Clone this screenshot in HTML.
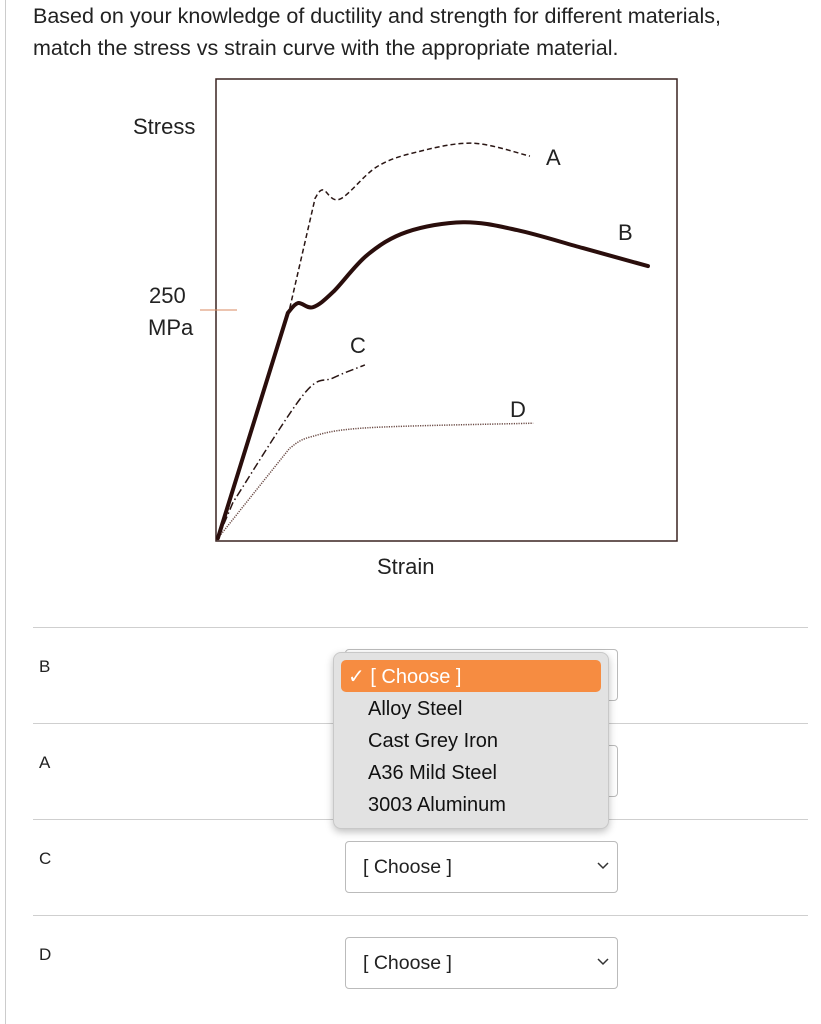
<!DOCTYPE html>
<html><head><meta charset="utf-8"><style>
body{margin:0;width:821px;height:1024px;background:#fff;font-family:"Liberation Sans",sans-serif;position:relative;overflow:hidden;color:#222}
.abs{position:absolute;white-space:nowrap}
.sep{position:absolute;left:33px;width:775px;height:1px;background:#cfcfcf}
.sel{position:absolute;left:345px;width:271px;height:50px;border:1px solid #bbb;border-radius:4px;background:#fff}
.sel span{position:absolute;left:17px;top:14px;font-size:19.5px;color:#222}
.sel svg{position:absolute;right:8px;top:20px}
.item{position:absolute;left:34px;font-size:20px;color:#111}
</style></head><body>
<div class="abs" style="left:5px;top:0;width:1px;height:1024px;background:#ccc"></div>
<div class="abs" style="left:33px;top:0px;font-size:21.5px;line-height:32px;color:#222">Based on your knowledge of ductility and strength for different materials,<br>match the stress vs strain curve with the appropriate material.</div>
<svg class="abs" style="left:0;top:0" width="821" height="600" id="chart"></svg>
<div class="sep" style="top:627px"></div>
<div class="sep" style="top:723px"></div>
<div class="sep" style="top:819px"></div>
<div class="sep" style="top:915px"></div>
<div class="abs" style="left:39px;top:657px;font-size:17px">B</div>
<div class="abs" style="left:39px;top:753px;font-size:17px">A</div>
<div class="abs" style="left:39px;top:849px;font-size:17px">C</div>
<div class="abs" style="left:39px;top:945px;font-size:17px">D</div>
<div class="sel" style="top:649px"></div>
<div class="sel" style="top:745px"></div>
<div class="sel" style="top:841px"><span>[ Choose ]</span><svg width="12" height="8"><path d="M1 1L6 6L11 1" stroke="#333" stroke-width="1.5" fill="none"/></svg></div>
<div class="sel" style="top:937px"><span>[ Choose ]</span><svg width="12" height="8"><path d="M1 1L6 6L11 1" stroke="#333" stroke-width="1.5" fill="none"/></svg></div>
<div class="abs" style="left:333px;top:652px;width:274px;height:175px;background:#e2e2e2;border:1px solid #c8c8c8;border-radius:8px;box-shadow:0 3px 8px rgba(0,0,0,.25)">
<div class="abs" style="left:7px;top:7px;width:260px;height:32px;background:#f68c41;border-radius:5px"><span style="position:absolute;left:7px;top:4px;font-size:20px;color:#fff">✓ [ Choose ]</span></div>
<div class="item" style="top:45px">Alloy Steel</div>
<div class="item" style="top:77px">Cast Grey Iron</div>
<div class="item" style="top:109px">A36 Mild Steel</div>
<div class="item" style="top:141px">3003 Aluminum</div>
</div>
<script>
const strainB=[0.4,15.6,17.8,21,25.4,32.8,41.4,53.6,65.3,79.6,93.7];
const stressB=[0.6,49.4,51.5,50.6,53.9,61.9,66.9,69,67.3,63.4,59.5];
const strainA=[16,21.5,23.2,26.9,34.9,43.6,55.7,68.1];
const stressA=[50.4,74.2,76,74,81,84.2,86.1,83.3];
const strainC=[0.4,3.7,18.9,25.4,32.3];
const stressC=[0.6,8.4,31.6,35.3,38.1];
const strainD=[0.4,16,20.4,32.8,68.8];
const stressD=[0.6,20.1,22.5,24.5,25.5];
const NS='http://www.w3.org/2000/svg';
const svg=document.getElementById('chart');
const X=s=>216+s*4.61, Y=v=>541-v*4.62;
function mk(t,a){const e=document.createElementNS(NS,t);for(const k in a)e.setAttribute(k,a[k]);svg.appendChild(e);return e;}
function smooth(xs,ys,lin){const p=xs.map((s,i)=>[X(s),Y(ys[i])]);let d='M'+p[0][0]+' '+p[0][1];
for(let i=0;i<p.length-1;i++){
if(i<lin){d+=` L${p[i+1][0]} ${p[i+1][1]}`;continue;}
const p0=p[Math.max(i-1,lin)],p1=p[i],p2=p[i+1],p3=p[Math.min(i+2,p.length-1)];
d+=` C${p1[0]+(p2[0]-p0[0])/6} ${p1[1]+(p2[1]-p0[1])/6} ${p2[0]-(p3[0]-p1[0])/6} ${p2[1]-(p3[1]-p1[1])/6} ${p2[0]} ${p2[1]}`;}return d;}
let r=mk('rect',{x:216,y:79,width:461,height:462,fill:'none',stroke:'#3a2320','stroke-width':1.5});


let t=mk('line',{x1:200,y1:310,x2:237,y2:310,stroke:'#d98a60','stroke-width':1});


let d=mk('path',{d:smooth(strainD,stressD,1),fill:'none',stroke:'#6a4a44','stroke-width':1.5,'stroke-dasharray':'1.2 1.2'});


let c=mk('path',{d:smooth(strainC,stressC,1),fill:'none',stroke:'#2a1614','stroke-width':1.5,'stroke-dasharray':'8 3 1.5 3'});


let a=mk('path',{d:smooth(strainA,stressA,1),fill:'none',stroke:'#2a1614','stroke-width':1.5,'stroke-dasharray':'5 3'});


let b=mk('path',{d:smooth(strainB,stressB,1),fill:'none',stroke:'#2a0e0c','stroke-width':4,'stroke-linecap':'round','stroke-linejoin':'round'});


const labels=[['Stress',133,134,'y-axis-title'],['250',149,303,'y-tick-label'],['MPa',148,335,'y-unit-label'],['Strain',377,574,'x-axis-title'],['A',546,165,'label-a'],['B',618,240,'label-b'],['C',350,353,'label-c'],['D',510,417,'label-d']];
labels.forEach(l=>{const e=mk('text',{x:l[1],y:l[2],'font-size':22,fill:'#222','font-family':'Liberation Sans, sans-serif'});e.textContent=l[0];

});
</script>
</body></html>
